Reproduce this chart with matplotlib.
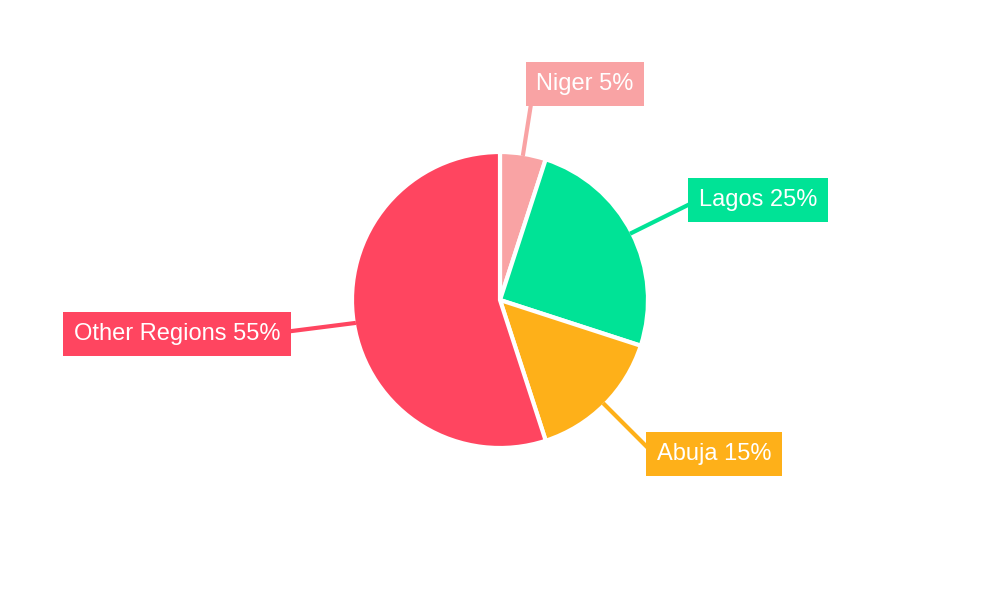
import matplotlib
matplotlib.use("Agg")
import matplotlib.pyplot as plt
import numpy as np

labels = ["Niger", "Lagos", "Abuja", "Other Regions"]
values = [5, 25, 15, 55]
colors = ["#F9A3A4", "#00E396", "#FEB019", "#FF4560"]
label_pos = [(585, 84), (758, 200), (714, 454), (177, 334)]
line_end = [(531, 104), (690, 204), (648, 448), (292, 331)]

fig = plt.figure(figsize=(10, 6), dpi=100)
ax = fig.add_axes([0, 0, 1, 1])

cx, cy, r = 500, 300, 148
wedges, _ = ax.pie(values, colors=colors, startangle=90, counterclock=False,
                   center=(cx, cy), radius=r, frame=True,
                   wedgeprops=dict(edgecolor="white", linewidth=3))
ax.set_xlim(0, 1000)
ax.set_ylim(0, 600)
ax.set_aspect("equal")
ax.axis("off")

for w, lab, v, c, (lx, ly), (ex, ey) in zip(wedges, labels, values, colors, label_pos, line_end):
    ang = np.deg2rad((w.theta1 + w.theta2) / 2)
    sx, sy = cx + r * np.cos(ang), cy + r * np.sin(ang)
    ax.plot([sx, ex], [sy, 600 - ey], color=c, lw=3, zorder=1)
    ax.text(lx, 600 - ly, f"{lab} {v}%", ha="center", va="center", color="white",
            fontsize=17, family="Liberation Sans", zorder=3,
            bbox=dict(boxstyle="square,pad=0.45", fc=c, ec="none"))

fig.savefig("out.png", dpi=100, facecolor="white")
